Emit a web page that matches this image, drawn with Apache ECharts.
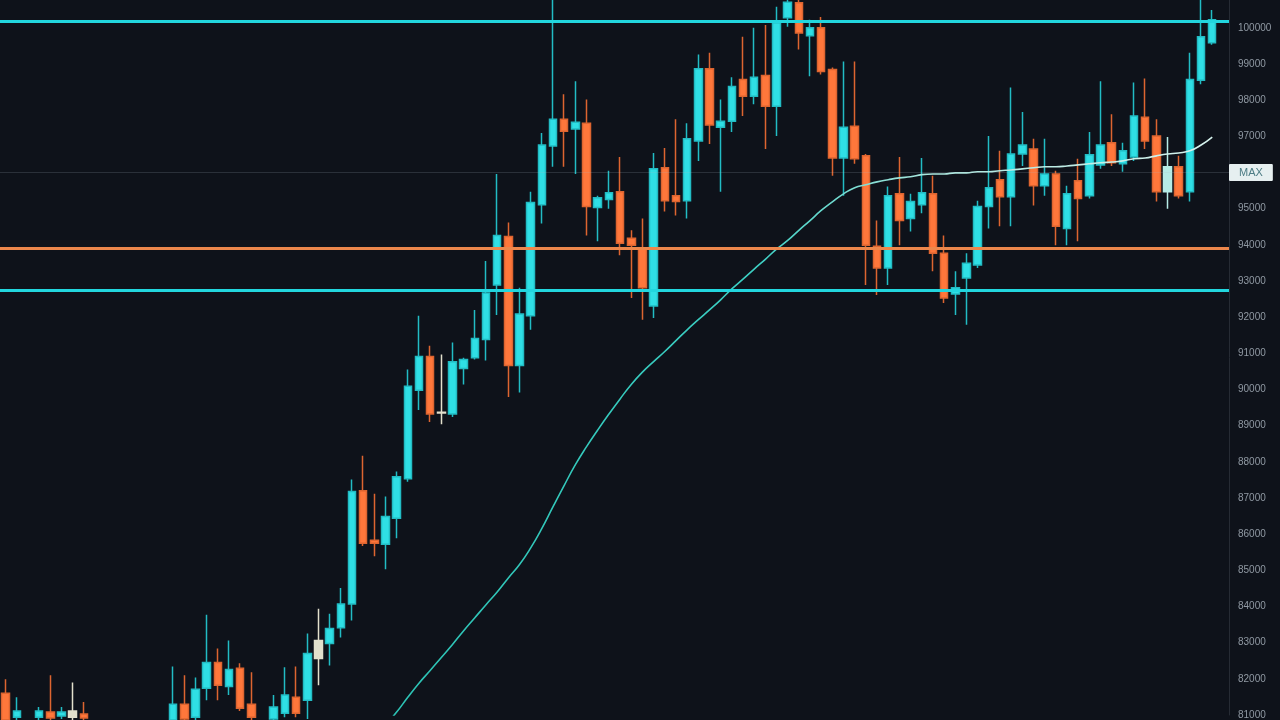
<!DOCTYPE html>
<html>
<head>
<meta charset="utf-8">
<title>Candles</title>
<script src="https://cdn.jsdelivr.net/npm/echarts@6/dist/echarts.min.js"></script>
<style>
  html, body { margin: 0; padding: 0; background: #0e121a; }
  #main { width: 1280px; height: 720px; }
</style>
</head>
<body>
<div id="main"></div>
<script>
// price data, one entry per candle (null = nothing visible)
var opens = [
  81600, 80940, null, 80940, 81080, 80970, 80940, 81030, null, null,
  null, null, null, null, null, 80860, 81300, 80940, 81740, 82450,
  81790, 82290, 81300, null, 80890, 81050, 81490, 81410, 82560, 82980,
  83410, 84070, 87200, 85830, 85720, 86440, 87530, 89980, 90910, 89350,
  89320, 90580, 90880, 91380, 92890, 94230, 90660, 92040, 95110, 96730,
  97470, 97200, 97360, 95030, 95250, 95470, 94180, 93900, 92310, 96130,
  95360, 95220, 96870, 98870, 97250, 97420, 98570, 98110, 98680, 97830,
  100280, 100690, 99780, 100000, 98850, 96400, 97280, 96460, 93960, 93360,
  95410, 94730, 95110, 95410, 93770, 92640, 93080, 93440, 95060, 95800,
  95330, 96510, 96650, 95630, 95960, 94450, 95770, 95360, 96210, 96820,
  96240, 96430, 97530, 97010, 95470, 96160, 95470, 98550, 99590, null
];
var closes = [
  80860, 81110, null, 81110, 80920, 81080, 81110, 80920, null, null,
  null, null, null, null, null, 81300, 80890, 81710, 82450, 81820,
  82260, 81190, 80940, null, 81220, 81550, 81050, 82700, 83060, 83390,
  84070, 87180, 85750, 85750, 86490, 87590, 90090, 90910, 89320, 89370,
  90770, 90830, 91410, 92670, 94260, 90660, 92090, 95170, 96760, 97470,
  97140, 97390, 95060, 95300, 95440, 94040, 93990, 92810, 96100, 95220,
  95200, 96930, 98870, 97310, 97420, 98380, 98110, 98630, 97830, 100140,
  100710, 99860, 100000, 98790, 96400, 97250, 96380, 93990, 93360, 95360,
  94670, 95200, 95440, 93770, 92530, 92810, 93490, 95060, 95580, 95330,
  96510, 96760, 95630, 95960, 94510, 95410, 95280, 96490, 96760, 96270,
  96600, 97560, 96870, 95470, 96160, 95360, 98570, 99750, 100220, null
];
var lows = [
  80720, 80860, null, 80860, 80830, 80890, 80860, 80830, null, null,
  null, null, null, null, null, 80780, 80780, 80830, 81410, 81410,
  81550, 81110, 80830, null, 80810, 80940, 80940, 80890, 81820, 82370,
  83140, 83610, 85670, 85390, 85030, 85890, 87450, 89430, 89100, 89040,
  89240, 90140, 90830, 90800, 92060, 89790, 89920, 91650, 94590, 96160,
  96160, 95960, 94260, 94100, 95000, 93710, 92530, 91930, 91980, 94920,
  94810, 94730, 96320, 96790, 95470, 97120, 97560, 97890, 96650, 97010,
  100030, 99400, 98660, 98710, 95910, 95360, 96240, 92890, 92610, 92890,
  93990, 94370, 94870, 93270, 92390, 92060, 91790, 93360, 94450, 94510,
  94510, 96180, 95090, 95360, 93990, 93990, 94100, 95280, 96100, 96180,
  96020, 96320, 96650, 95200, 95000, 95280, 95200, 98440, 99530, null
];
var highs = [
  81990, 81490, null, 81220, 82100, 81220, 81900, 81360, null, null,
  null, null, null, null, null, 82340, 82100, 82040, 83770, 82840,
  83060, 82430, 82180, null, 81550, 82320, 82340, 83250, 83940, 83800,
  84510, 87510, 88170, 87120, 87040, 87730, 90550, 92040, 91210, 90970,
  91300, 90880, 92200, 93550, 95960, 94620, 92810, 95470, 97090, 100770,
  98160, 98520, 98020, 95360, 96050, 96430, 94400, 94730, 96540, 96680,
  97470, 97360, 99260, 99310, 98020, 98630, 99750, 100000, 100080, 100580,
  100770, 100770, 100220, 100300, 98900, 99070, 99070, 96510, 94670, 95610,
  96430, 95410, 96400, 95910, 94260, 93270, 93770, 95220, 97010, 96600,
  98350, 97670, 96930, 96930, 96050, 95630, 96380, 97120, 98520, 97610,
  96820, 98490, 98600, 97470, 96980, 96460, 99310, 100770, 100490, null
];
// slow moving average
var maLine = [
  null, null, null, null, null, null, null, null, null, null,
  null, null, null, null, null, null, null, null, null, null,
  null, null, null, null, null, null, null, null, null, null,
  null, null, null, null, 80720, 81080, 81490, 81880, 82230, 82590,
  82950, 83330, 83690, 84050, 84400, 84790, 85160, 85620, 86160, 86760,
  87350, 87920, 88420, 88880, 89320, 89740, 90140, 90480, 90770, 91050,
  91350, 91650, 91930, 92200, 92480, 92780, 93050, 93330, 93600, 93880,
  94120, 94400, 94670, 94950, 95190, 95410, 95580, 95660, 95740, 95800,
  95850, 95880, 95940, 95960, 95960, 95990, 95990, 96020, 96020, 96050,
  96070, 96100, 96130, 96160, 96160, 96180, 96210, 96240, 96270, 96290,
  96320, 96380, 96400, 96460, 96510, 96540, 96600, 96760, 96980, null
];
// horizontal levels
var resistanceTop = 100180;
var supportOrange = 93900;
var supportCyan = 92750;
var maxLevel = 96000;

var categories = opens.map(function (_, i) { return 'T' + (i + 1); });

// a few candles are drawn in pale colours
var paleCandles = { 6: '#e2e0cc', 28: '#e2e0cc', 39: '#e2e0cc', 104: '#b6ece6' };

var candleData = categories.map(function (_, i) {
  if (opens[i] === null) return '-';
  var item = { value: [opens[i], closes[i], lows[i], highs[i]] };
  if (paleCandles[i]) {
    item.itemStyle = { color: paleCandles[i], color0: paleCandles[i], borderColor: paleCandles[i], borderColor0: paleCandles[i] };
  }
  return item;
});

var chart = echarts.init(document.getElementById('main'));
var option = {
  backgroundColor: '#0e121a',
  animation: false,
  grid: { left: 0, right: 51, top: 0, bottom: 0 },
  xAxis: {
    type: 'category',
    data: categories,
    show: false
  },
  yAxis: {
    type: 'value',
    position: 'right',
    min: 81000,
    max: 100769,
    interval: 1000,
    axisLine: { show: true, lineStyle: { color: '#262b34', width: 1 } },
    axisTick: { show: false },
    splitLine: { show: false },
    axisLabel: {
      color: '#9099a3',
      fontSize: 10,
      fontFamily: 'Liberation Sans',
      margin: 9,
      showMaxLabel: false,
      formatter: function (v) { return v === maxLevel ? '' : String(v); }
    }
  },
  series: [
    {
      type: 'candlestick',
      data: candleData,
      barWidth: 8,
      z: 2,
      itemStyle: {
        color: '#2fdfe5',
        color0: '#ff773b',
        borderColor: '#22bcc4',
        borderColor0: '#dd6530',
        borderWidth: 1.5
      },
      markLine: {
        silent: true,
        symbol: ['none', 'none'],
        label: { show: false },
        data: [
          { yAxis: resistanceTop, lineStyle: { color: '#22d6de', width: 3, type: 'solid' } },
          { yAxis: supportOrange, lineStyle: { color: '#ec874c', width: 3, type: 'solid' } },
          { yAxis: supportCyan, lineStyle: { color: '#22d6de', width: 3, type: 'solid' } },
          {
            yAxis: maxLevel,
            lineStyle: { color: 'rgba(170,190,200,0.18)', width: 1, type: 'solid' },
            label: {
              show: true,
              position: 'end',
              distance: 0,
              formatter: 'MAX',
              backgroundColor: '#e6eff0',
              color: '#4c7c84',
              fontSize: 11,
              fontFamily: 'Liberation Sans',
              padding: [3, 10],
              borderRadius: 1
            }
          }
        ]
      }
    },
    {
      type: 'line',
      data: maLine,
      smooth: true,
      symbol: 'none',
      z: 3,
      lineStyle: {
        width: 1.6,
        color: new echarts.graphic.LinearGradient(0, 0, 1, 0, [
          { offset: 0, color: '#2bc2b4' },
          { offset: 0.45, color: '#3ccfc3' },
          { offset: 0.65, color: '#a9e7de' },
          { offset: 1, color: '#d6f3ee' }
        ])
      }
    }
  ]
};
chart.setOption(option);
</script>
</body>
</html>
